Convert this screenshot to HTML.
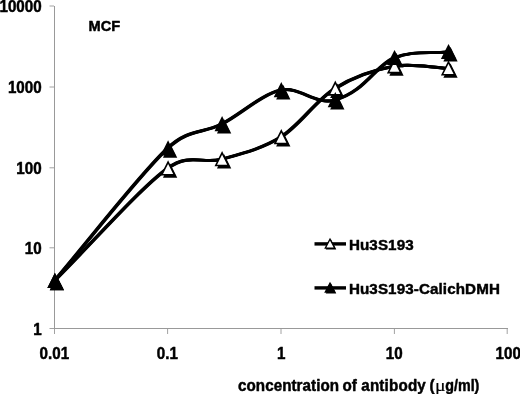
<!DOCTYPE html>
<html><head><meta charset="utf-8"><title>chart</title>
<style>html,body{margin:0;padding:0;background:#fff;overflow:hidden}</style></head>
<body>
<svg width="520" height="394" viewBox="0 0 520 394" style="display:block">
<rect width="520" height="394" fill="#fff"/>
<g stroke="#999999" stroke-width="1" fill="none" shape-rendering="crispEdges">
<path d="M54.5 5.5V334"/><path d="M49.5 328.5H507.5"/>
<path d="M49.5 328.5H54" stroke="#a2a2a2" shape-rendering="auto"/>
<path d="M54.5 329V334" stroke="#a2a2a2" shape-rendering="auto"/>
<path d="M49.5 247.8H54" stroke="#a2a2a2" shape-rendering="auto"/>
<path d="M167.6 329V334" stroke="#a2a2a2" shape-rendering="auto"/>
<path d="M49.5 167.8H54" stroke="#a2a2a2" shape-rendering="auto"/>
<path d="M281.0 329V334" stroke="#a2a2a2" shape-rendering="auto"/>
<path d="M49.5 87.0H54" stroke="#a2a2a2" shape-rendering="auto"/>
<path d="M394.4 329V334" stroke="#a2a2a2" shape-rendering="auto"/>
<path d="M49.5 6.0H54" stroke="#a2a2a2" shape-rendering="auto"/>
<path d="M507.2 329V334" stroke="#a2a2a2" shape-rendering="auto"/>
</g>
<g font-family="'Liberation Sans', Arial, sans-serif" font-weight="bold" font-size="15.2" fill="#000" stroke="#000" stroke-width="0.45" stroke-linejoin="round">
<text transform="translate(41.70 334.70) scale(1 1.100)" text-anchor="end">1</text>
<text transform="translate(41.70 254.00) scale(1 1.100)" text-anchor="end">10</text>
<text transform="translate(41.70 174.00) scale(1 1.100)" text-anchor="end">100</text>
<text transform="translate(41.70 93.20) scale(1 1.100)" text-anchor="end">1000</text>
<text transform="translate(41.70 12.20) scale(1 1.100)" text-anchor="end">10000</text>
<text transform="translate(54.30 359.00) scale(1 1.100)" text-anchor="middle">0.01</text>
<text transform="translate(167.40 359.00) scale(1 1.100)" text-anchor="middle">0.1</text>
<text transform="translate(281.30 359.00) scale(1 1.100)" text-anchor="middle">1</text>
<text transform="translate(394.20 359.00) scale(1 1.100)" text-anchor="middle">10</text>
<text transform="translate(508.30 359.00) scale(1 1.100)" text-anchor="middle">100</text>
<text transform="translate(88.60 30.90) scale(1 1.000)" text-anchor="start" font-size="14.6">MCF</text>
<text transform="translate(0 390.50) scale(1 1.06)"><tspan x="238.0" letter-spacing="0.05">concentration</tspan> <tspan x="342.4">of</tspan> <tspan x="361.3" letter-spacing="0.17">antibody</tspan> <tspan x="429.4">(</tspan><tspan x="435.0" font-family="'Liberation Serif', 'DejaVu Serif', serif" font-weight="normal" font-size="16.5" stroke-width="0.15" textLength="10.6" lengthAdjust="spacingAndGlyphs">μ</tspan><tspan x="445.2" textLength="34.2" lengthAdjust="spacingAndGlyphs">g/ml)</tspan></text>
<text transform="translate(348.90 249.50) scale(1 1.000)" text-anchor="start" letter-spacing="0.1">Hu3S193</text>
<text transform="translate(348.90 294.10) scale(1 1.000)" text-anchor="start" letter-spacing="0.1">Hu3S193-CalichDMH</text>
</g>
<defs><path id="so" d="M54.30 280.90 C92.03 243.40 139.63 188.68 167.50 168.40 C189.64 152.28 202.63 164.40 221.50 159.20 C240.37 154.00 261.83 148.97 280.70 137.20 C299.57 125.43 315.83 100.42 334.70 88.60 C353.57 76.78 375.03 69.67 393.90 66.30 C412.77 62.93 429.90 67.70 447.90 68.40"/><path id="sf" d="M54.30 280.90 C92.03 236.73 139.63 174.52 167.50 148.40 C189.09 128.17 202.63 133.92 221.50 124.20 C240.37 114.48 261.83 94.12 280.70 90.10 C299.57 86.08 315.83 105.45 334.70 100.10 C365.26 91.43 375.03 66.02 393.90 58.00 C412.77 49.98 429.90 54.00 447.90 52.00"/></defs>
<g fill="none" stroke="#000" stroke-width="1.2" stroke-linecap="square" stroke-linejoin="round">
<use href="#so" x="-0.85" y="-0.85"/><use href="#sf" x="-0.85" y="-0.85"/>
<use href="#so" x="-0.85" y="0.00"/><use href="#sf" x="-0.85" y="0.00"/>
<use href="#so" x="-0.85" y="0.85"/><use href="#sf" x="-0.85" y="0.85"/>
<use href="#so" x="0.00" y="-0.85"/><use href="#sf" x="0.00" y="-0.85"/>
<use href="#so" x="0.00" y="0.00"/><use href="#sf" x="0.00" y="0.00"/>
<use href="#so" x="0.00" y="0.85"/><use href="#sf" x="0.00" y="0.85"/>
<use href="#so" x="0.85" y="-0.85"/><use href="#sf" x="0.85" y="-0.85"/>
<use href="#so" x="0.85" y="0.00"/><use href="#sf" x="0.85" y="0.00"/>
<use href="#so" x="0.85" y="0.85"/><use href="#sf" x="0.85" y="0.85"/>
</g>
<polygon points="56.90,275.90 64.05,290.30 49.75,290.30" fill="#000"/>
<polygon points="170.10,163.40 177.25,177.80 162.95,177.80" fill="#000"/>
<polygon points="224.10,154.20 231.25,168.60 216.95,168.60" fill="#000"/>
<polygon points="283.30,132.20 290.45,146.60 276.15,146.60" fill="#000"/>
<polygon points="337.30,83.60 344.45,98.00 330.15,98.00" fill="#000"/>
<polygon points="396.50,61.30 403.65,75.70 389.35,75.70" fill="#000"/>
<polygon points="450.50,63.40 457.65,77.80 443.35,77.80" fill="#000"/>
<polygon points="56.90,275.90 64.05,290.30 49.75,290.30" fill="#000"/>
<polygon points="170.10,143.40 177.25,157.80 162.95,157.80" fill="#000"/>
<polygon points="224.10,119.20 231.25,133.60 216.95,133.60" fill="#000"/>
<polygon points="283.30,85.10 290.45,99.50 276.15,99.50" fill="#000"/>
<polygon points="337.30,95.10 344.45,109.50 330.15,109.50" fill="#000"/>
<polygon points="396.50,53.00 403.65,67.40 389.35,67.40" fill="#000"/>
<polygon points="450.50,47.00 457.65,61.40 443.35,61.40" fill="#000"/>
<polygon points="54.90,274.60 61.20,287.20 48.60,287.20" fill="#fff" stroke="#000" stroke-width="1.6"/>
<polygon points="168.10,162.10 174.40,174.70 161.80,174.70" fill="#fff" stroke="#000" stroke-width="1.6"/>
<polygon points="222.10,152.90 228.40,165.50 215.80,165.50" fill="#fff" stroke="#000" stroke-width="1.6"/>
<polygon points="281.30,130.90 287.60,143.50 275.00,143.50" fill="#fff" stroke="#000" stroke-width="1.6"/>
<polygon points="335.30,82.30 341.60,94.90 329.00,94.90" fill="#fff" stroke="#000" stroke-width="1.6"/>
<polygon points="394.50,60.00 400.80,72.60 388.20,72.60" fill="#fff" stroke="#000" stroke-width="1.6"/>
<polygon points="448.50,62.10 454.80,74.70 442.20,74.70" fill="#fff" stroke="#000" stroke-width="1.6"/>
<polygon points="54.90,274.60 61.20,287.20 48.60,287.20" fill="#000" stroke="#000" stroke-width="1.6"/>
<polygon points="168.10,142.10 174.40,154.70 161.80,154.70" fill="#000" stroke="#000" stroke-width="1.6"/>
<polygon points="222.10,117.90 228.40,130.50 215.80,130.50" fill="#000" stroke="#000" stroke-width="1.6"/>
<polygon points="281.30,83.80 287.60,96.40 275.00,96.40" fill="#000" stroke="#000" stroke-width="1.6"/>
<polygon points="335.30,93.80 341.60,106.40 329.00,106.40" fill="#000" stroke="#000" stroke-width="1.6"/>
<polygon points="394.50,51.70 400.80,64.30 388.20,64.30" fill="#000" stroke="#000" stroke-width="1.6"/>
<polygon points="448.50,45.70 454.80,58.30 442.20,58.30" fill="#000" stroke="#000" stroke-width="1.6"/>
<g stroke="#000" stroke-width="3.4"><path d="M314.5 243.9H346"/><path d="M314.5 287.9H346"/></g>
<polygon points="331.00,239.60 336.25,249.60 325.75,249.60" fill="#000"/>
<polygon points="330.00,239.10 334.75,248.10 325.25,248.10" fill="#fff" stroke="#000" stroke-width="1.3"/>
<polygon points="331.00,283.60 336.25,293.60 325.75,293.60" fill="#000"/>
<polygon points="330.00,283.10 334.75,292.10 325.25,292.10" fill="#000" stroke="#000" stroke-width="1.3"/>
</svg>
</body></html>
